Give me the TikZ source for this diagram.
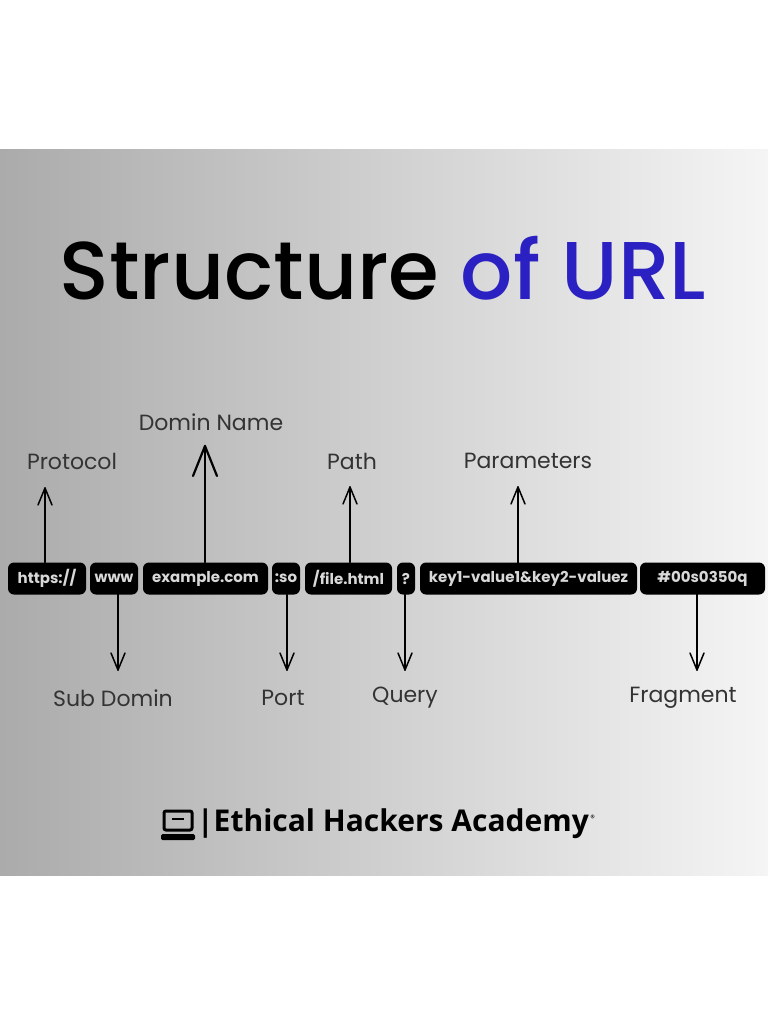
\documentclass[tikz,border=0pt]{standalone}
\usepackage{fontspec}
\setmainfont{Poppins}
\newfontfamily\titlefont{Poppins Medium}
\newfontfamily\osans{Open Sans}
\definecolor{urlblue}{HTML}{2B20C2}
\definecolor{boxtxt}{HTML}{D8D8D8}
\begin{document}
\begin{tikzpicture}[x=1pt,y=-1pt,
  seg/.style={fill=black,rounded corners=6pt,text=boxtxt,font=\fontsize{15}{15}\selectfont\bfseries,inner sep=0pt,minimum height=32pt,anchor=center},
  lab/.style={font=\fontsize{22}{22}\selectfont,text=black!80},
  stem/.style={line width=1.8pt,line cap=round},
  bigstem/.style={line width=2.6pt,line cap=round},
  vtip/.style={line width=1.5pt,line join=round,line cap=round},
  bigtip/.style={line width=2.2pt,line join=round,line cap=round},
]
\useasboundingbox (0,0) rectangle (768,1024);
\fill[white] (0,0) rectangle (768,1024);
\shade[left color=black!33,right color=black!4] (0,150) rectangle (768,875);
\node[font=\titlefont\fontsize{82}{82}\selectfont] (title) at (383,268) {Structure \textcolor{urlblue}{of URL}};
\node[seg,minimum width=78pt] (b1) at (47,578.5) {https://};
\node[seg,minimum width=48pt] (b2) at (114,578.5) {www};
\node[seg,minimum width=125pt] (b3) at (205.5,578.5) {example.com};
\node[seg,minimum width=28pt] (b4) at (286,578.5) {:so};
\node[seg,minimum width=87pt] (b5) at (348.5,578.5) {/file.html};
\node[seg,minimum width=18pt] (b6) at (406,578.5) {?};
\node[seg,minimum width=217pt] (b7) at (528.5,578.5) {key1-value1\&key2-valuez};
\node[seg,minimum width=125pt] (b8) at (702.5,578.5) {\#00s0350q};
\node[lab] (protocol) at (72,461) {Protocol};
\node[lab] (domain) at (211,422) {Domin Name};
\node[lab] (path) at (352,461) {Path};
\node[lab] (params) at (528,461) {Parameters};
\node[lab] (sub) at (113,698) {Sub Domin};
\node[lab] (port) at (283,698) {Port};
\node[lab] (query) at (405,698) {Query};
\node[lab] (frag) at (683,698) {Fragment};
\coordinate (t1) at (45,488);
\coordinate (t3) at (205,446);
\coordinate (t5) at (350,487);
\coordinate (t7a) at (518,563);
\coordinate (t7) at (518,487);
\coordinate (d2a) at (118,594);
\coordinate (d2) at (118,670);
\coordinate (d4) at (287,670);
\coordinate (d6) at (405,670);
\coordinate (d8a) at (697,594);
\coordinate (d8) at (697,670);
\draw[stem] (b1.north -| t1) -- (t1);
\draw[vtip] ([shift={(-7,17)}]t1) -- (t1) -- ([shift={(7,17)}]t1);
\draw[bigstem] (b3.north -| t3) -- (t3);
\draw[bigtip] ([shift={(-12,30)}]t3) -- (t3) -- ([shift={(12,30)}]t3);
\draw[stem] (b5.north -| t5) -- (t5);
\draw[vtip] ([shift={(-7,17)}]t5) -- (t5) -- ([shift={(7,17)}]t5);
\draw[stem] (t7a) -- (t7);
\draw[vtip] ([shift={(-7,17)}]t7) -- (t7) -- ([shift={(7,17)}]t7);
\draw[stem] (d2a) -- (d2);
\draw[vtip] ([shift={(-7,-17)}]d2) -- (d2) -- ([shift={(7,-17)}]d2);
\draw[stem] (b4.south -| d4) -- (d4);
\draw[vtip] ([shift={(-7,-17)}]d4) -- (d4) -- ([shift={(7,-17)}]d4);
\draw[stem] (b6.south -| d6) -- (d6);
\draw[vtip] ([shift={(-7,-17)}]d6) -- (d6) -- ([shift={(7,-17)}]d6);
\draw[stem] (d8a) -- (d8);
\draw[vtip] ([shift={(-7,-17)}]d8) -- (d8) -- ([shift={(7,-17)}]d8);
% logo
\draw[line width=3pt,rounded corners=2pt] (164,811) rectangle (192,830);
\draw[line width=2.5pt] (172,819) -- (184,819);
\fill[rounded corners=1.5pt] (161,834) rectangle (195,840);
\node[font=\osans\fontsize{30}{30}\selectfont\bfseries,anchor=west,inner sep=0pt] (brand) at (197,824) {|Ethical Hackers Academy};
\node[font=\fontsize{9}{9}\selectfont,anchor=west,inner sep=1pt] (reg) at ([yshift=6]brand.east) {®};
\end{tikzpicture}
\end{document}
